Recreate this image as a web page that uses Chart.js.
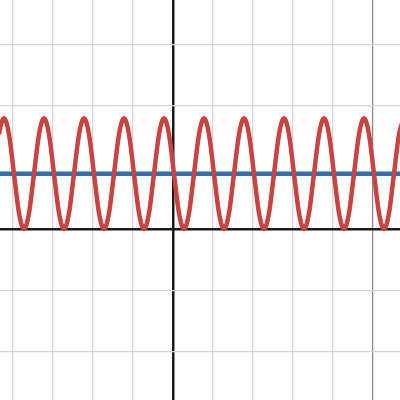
<!DOCTYPE html>
<html>
<head>
<meta charset="utf-8">
<script src="https://cdn.jsdelivr.net/npm/chart.js@4"></script>
<style>
  html, body { margin: 0; padding: 0; background: #fff; }
  #wrap { width: 400px; height: 400px; }
</style>
</head>
<body>
<div id="wrap"><canvas id="graph" width="400" height="400"></canvas></div>
<script>
// ===== DATA =====
var waveX = [-4.475, -4.35, -4.225, -4.1, -3.975, -3.85, -3.725, -3.6,
             -3.475, -3.35, -3.225, -3.1, -2.975, -2.85, -2.725, -2.6,
             -2.475, -2.35, -2.225, -2.1, -1.975, -1.85, -1.725, -1.6,
             -1.475, -1.35, -1.225, -1.1, -0.975, -0.85, -0.725, -0.6,
             -0.475, -0.35, -0.225, -0.1, 0.025, 0.15, 0.275, 0.4,
             0.525, 0.65, 0.775, 0.9, 1.025, 1.15, 1.275, 1.4,
             1.525, 1.65, 1.775, 1.9, 2.025, 2.15, 2.275, 2.4,
             2.525, 2.65, 2.775, 2.9, 3.025, 3.15, 3.275, 3.4,
             3.525, 3.65, 3.775, 3.9, 4.025, 4.15, 4.275, 4.4,
             4.525, 4.65, 4.775, 4.9, 5.025, 5.15, 5.275, 5.4,
             5.525, 5.65, 5.775];
var waveY = [0.9, 1.54, 1.8, 1.54, 0.9, 0.26, 0, 0.26,
             0.9, 1.54, 1.8, 1.54, 0.9, 0.26, 0, 0.26,
             0.9, 1.54, 1.8, 1.54, 0.9, 0.26, 0, 0.26,
             0.9, 1.54, 1.8, 1.54, 0.9, 0.26, 0, 0.26,
             0.9, 1.54, 1.8, 1.54, 0.9, 0.26, 0, 0.26,
             0.9, 1.54, 1.8, 1.54, 0.9, 0.26, 0, 0.26,
             0.9, 1.54, 1.8, 1.54, 0.9, 0.26, 0, 0.26,
             0.9, 1.54, 1.8, 1.54, 0.9, 0.26, 0, 0.26,
             0.9, 1.54, 1.8, 1.54, 0.9, 0.26, 0, 0.26,
             0.9, 1.54, 1.8, 1.54, 0.9, 0.26, 0, 0.26,
             0.9, 1.54, 1.8];
var flatX = [-4.325, 5.675];
var flatY = [0.9, 0.9];
var xTicks = [-4, -3, -2, -1, 0, 1, 2, 3, 4, 5];
var yTicks = [-2, -1, 0, 2, 3];

function toPoints(xs, ys) {
  return xs.map(function(x, i) { return { x: x, y: ys[i] }; });
}

function gridColor(ctx) {
  var v = ctx.tick ? ctx.tick.value : null;
  if (v === 0) return '#1a1a1a';
  if (ctx.scale.axis === 'x' && v === 5) return '#8c8c8c';
  return '#d4d4d4';
}
function gridWidth(ctx) {
  return (ctx.tick && ctx.tick.value === 0) ? 2.5 : 1.3;
}

new Chart(document.getElementById('graph'), {
  type: 'scatter',
  data: {
    datasets: [
      {
        data: toPoints(waveX, waveY),
        showLine: true,
        borderColor: '#c74440',
        borderWidth: 4.5,
        pointRadius: 0,
        cubicInterpolationMode: 'monotone'
      },
      {
        data: toPoints(flatX, flatY),
        showLine: true,
        borderColor: '#2d70b3',
        borderWidth: 4.5,
        pointRadius: 0
      }
    ]
  },
  options: {
    responsive: false,
    animation: false,
    layout: { padding: 0 },
    plugins: { legend: { display: false }, tooltip: { enabled: false } },
    scales: {
      x: {
        type: 'linear', min: -4.325, max: 5.675,
        afterBuildTicks: function(s) { s.ticks = xTicks.map(function(v) { return { value: v }; }); },
        ticks: { display: false },
        border: { display: false },
        grid: { drawTicks: false, color: gridColor, lineWidth: gridWidth }
      },
      y: {
        type: 'linear', min: -2.78, max: 3.724,
        afterBuildTicks: function(s) { s.ticks = yTicks.map(function(v) { return { value: v }; }); },
        ticks: { display: false },
        border: { display: false },
        grid: { drawTicks: false, color: gridColor, lineWidth: gridWidth }
      }
    }
  }
});
</script>
</body>
</html>
